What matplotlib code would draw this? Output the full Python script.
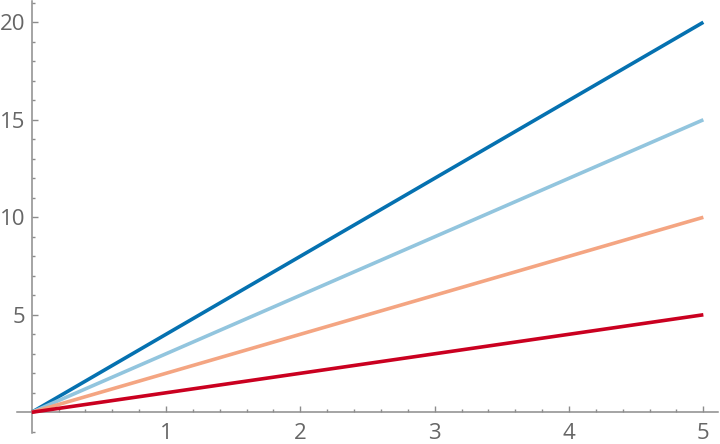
import matplotlib
matplotlib.use("Agg")
import matplotlib.pyplot as plt
from matplotlib.ticker import MultipleLocator
import numpy as np

# data: four straight lines y = k*x on 0..5
x_vals = [0, 5]
slopes = [4, 3, 2, 1]
colors = ["#0571b0", "#92c5de", "#f4a582", "#ca0020"]

axis_gray = "#8c8c8c"
label_gray = "#666666"

fig = plt.figure(figsize=(7.2, 4.44), dpi=100)
# axes box measured in pixels from the reference
ax = fig.add_axes([17 / 720, 1 - 433 / 444, (718 - 17) / 720, (433 - 1) / 444])

for k, c in zip(slopes, colors):
    ax.plot(x_vals, [k * v for v in x_vals], color=c, lw=2.6,
            solid_capstyle="butt", zorder=3)

ax.set_xlim(-0.1094, 5.109)
ax.set_ylim(-1.062, 21.09)

# axes crossing at the origin, no frame
for side in ["top", "right"]:
    ax.spines[side].set_visible(False)
for side in ["left", "bottom"]:
    ax.spines[side].set_position(("data", 0))
    ax.spines[side].set_color(axis_gray)
    ax.spines[side].set_linewidth(1.1)

ax.xaxis.set_major_locator(MultipleLocator(1))
ax.xaxis.set_minor_locator(MultipleLocator(0.2))
ax.yaxis.set_major_locator(MultipleLocator(5))
ax.yaxis.set_minor_locator(MultipleLocator(1))

ax.tick_params(which="both", direction="in", color=axis_gray, width=1.0)
ax.tick_params(which="major", length=4)
ax.tick_params(which="minor", length=2.2)
ax.tick_params(axis="x", which="major", pad=8)
ax.tick_params(axis="y", which="major", pad=4.5)
ax.tick_params(labelsize=16, labelcolor=label_gray)

ax.set_xticks([1, 2, 3, 4, 5])
ax.set_yticks([5, 10, 15, 20])
for lab in ax.get_xticklabels() + ax.get_yticklabels():
    lab.set_fontfamily("Open Sans")

ax.patch.set_alpha(0)
fig.savefig("out.png", dpi=100)
